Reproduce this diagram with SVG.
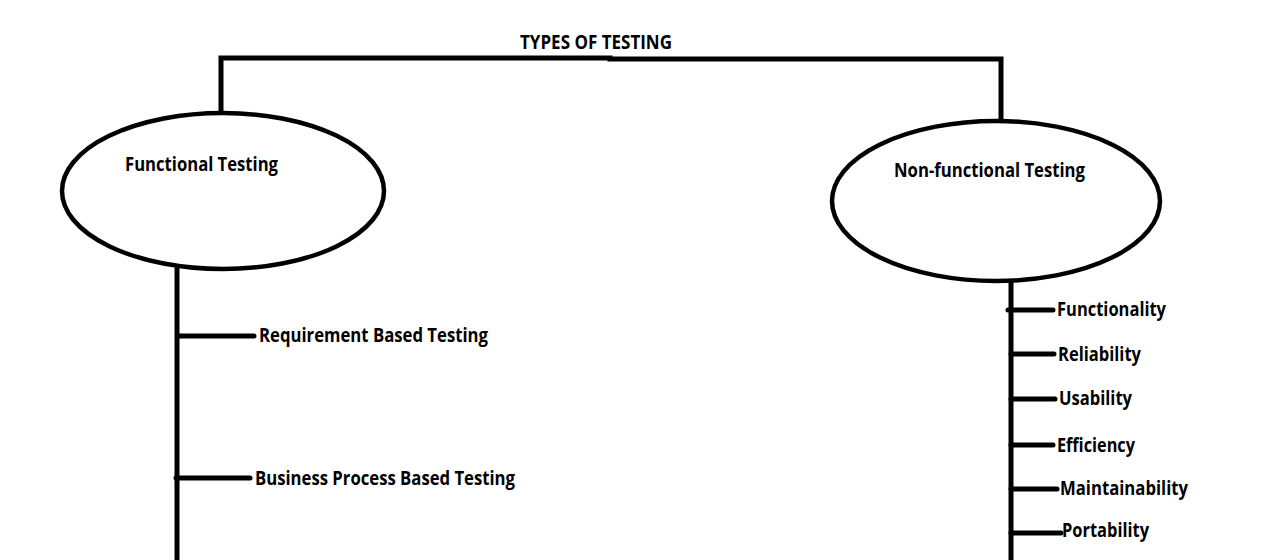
<svg xmlns="http://www.w3.org/2000/svg" width="1272" height="560" viewBox="0 0 1272 560">
<style>
.ln{stroke:#000;stroke-width:5;fill:none;stroke-linecap:round;stroke-linejoin:miter}
.el{stroke:#000;stroke-width:4.5;fill:#fff}
.t{font-family:"Open Sans","Liberation Sans",sans-serif;font-weight:bold;font-size:19px;fill:#000}
</style>
<rect width="1272" height="560" fill="#fff"/>
<g id="connectors">
<polyline class="ln" points="221,113 221,58 610,58 610,59 1001,59 1001,120" stroke-linecap="butt"/>
<line class="ln" x1="177" y1="269" x2="177" y2="562"/>
<line class="ln" x1="178" y1="336" x2="254" y2="336"/>
<line class="ln" x1="176" y1="478" x2="250" y2="478"/>
<line class="ln" x1="1011" y1="282" x2="1011" y2="562"/>
<line class="ln" x1="1008" y1="310" x2="1053" y2="310"/>
<line class="ln" x1="1011" y1="354" x2="1054" y2="354"/>
<line class="ln" x1="1011" y1="399" x2="1055" y2="399"/>
<line class="ln" x1="1011" y1="445" x2="1053" y2="445"/>
<line class="ln" x1="1011" y1="489" x2="1057" y2="489"/>
<line class="ln" x1="1011" y1="533" x2="1061" y2="533"/>
</g>
<g id="title"><text class="t" x="520" y="49" textLength="152" lengthAdjust="spacingAndGlyphs">TYPES OF TESTING</text></g>
<g id="functional">
<ellipse class="el" cx="223" cy="191" rx="161" ry="78"/>
<text class="t" x="125" y="171" textLength="153" lengthAdjust="spacingAndGlyphs">Functional Testing</text>
</g>
<g id="nonfunctional">
<ellipse class="el" cx="996" cy="201" rx="164" ry="80"/>
<text class="t" x="894" y="177" textLength="191" lengthAdjust="spacingAndGlyphs">Non-functional Testing</text>
</g>
<g id="requirement"><text class="t" x="259" y="342" textLength="229" lengthAdjust="spacingAndGlyphs">Requirement Based Testing</text></g>
<g id="business"><text class="t" x="255" y="485" textLength="260" lengthAdjust="spacingAndGlyphs">Business Process Based Testing</text></g>
<g id="functionality"><text class="t" x="1057" y="316" textLength="109" lengthAdjust="spacingAndGlyphs">Functionality</text></g>
<g id="reliability"><text class="t" x="1058" y="361" textLength="83" lengthAdjust="spacingAndGlyphs">Reliability</text></g>
<g id="usability"><text class="t" x="1059" y="405" textLength="73" lengthAdjust="spacingAndGlyphs">Usability</text></g>
<g id="efficiency"><text class="t" x="1057" y="452" textLength="78" lengthAdjust="spacingAndGlyphs">Efficiency</text></g>
<g id="maintainability"><text class="t" x="1060" y="495" textLength="128" lengthAdjust="spacingAndGlyphs">Maintainability</text></g>
<g id="portability"><text class="t" x="1062" y="537" textLength="87" lengthAdjust="spacingAndGlyphs">Portability</text></g>
</svg>
